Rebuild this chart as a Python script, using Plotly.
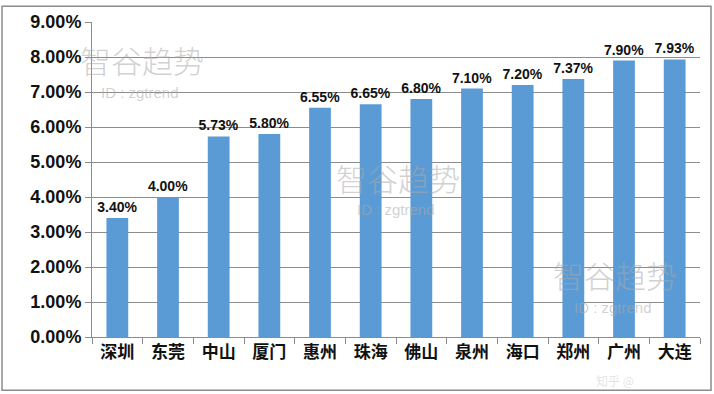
import plotly.graph_objects as go

cities = ["深圳", "东莞", "中山", "厦门", "惠州", "珠海", "佛山", "泉州", "海口", "郑州", "广州", "大连"]
values = [3.40, 4.00, 5.73, 5.80, 6.55, 6.65, 6.80, 7.10, 7.20, 7.37, 7.90, 7.93]
y_ticks = [0, 1, 2, 3, 4, 5, 6, 7, 8, 9]
y_tick_labels = [f"{v:.2f}%" for v in y_ticks]

W, H = 714, 394
ML, MR, MT, MB = 92, 14, 18, 57
PW, PH = W - ML - MR, H - MT - MB

fig = go.Figure()
fig.add_trace(go.Bar(
    x=cities, y=values,
    marker=dict(color="#5B9BD5", line=dict(width=0)),
    text=[f"{v:.2f}%" for v in values],
    textposition="outside",
    constraintext="none",
    textfont=dict(family="Liberation Sans, Noto Sans CJK SC", size=14, color="#111111", weight="bold"),
    cliponaxis=False,
))

def px(x):
    return (x - ML) / PW

def py(y):
    return 1 - (y - MT) / PH

wm_color = "rgba(170,170,170,0.55)"
annotations = []
for (cx, cy) in [(142, 56), (398, 175), (615, 274)]:
    annotations.append(dict(x=px(cx), y=py(cy), xref="paper", yref="paper", text="智谷趋势",
                            xanchor="center", yanchor="middle",
                            showarrow=False, font=dict(family="Noto Sans CJK SC", size=31, color=wm_color, weight=300)))
    annotations.append(dict(x=px(cx - 2), y=py(cy + 33), xref="paper", yref="paper", text="ID : zgtrend",
                            xanchor="center", yanchor="middle",
                            showarrow=False, font=dict(family="Liberation Sans", size=15, color=wm_color)))
annotations.append(dict(x=px(615), y=py(381), xref="paper", yref="paper", text="知乎 @",
                        xanchor="center", yanchor="middle",
                        showarrow=False, font=dict(family="Noto Sans CJK SC", size=12, color="rgba(190,190,190,0.45)")))

fig.update_layout(
    width=W, height=H,
    margin=dict(l=ML, r=MR, t=MT, b=MB),
    paper_bgcolor="white", plot_bgcolor="white",
    showlegend=False,
    bargap=0.57,
    font=dict(family="Liberation Sans, Noto Sans CJK SC", color="#111111"),
    xaxis=dict(
        type="category",
        showline=True, linecolor="#8c8c8c", linewidth=1,
        ticks="outside", tickson="boundaries", ticklen=6, tickcolor="#8c8c8c",
        tickfont=dict(family="Noto Sans CJK SC", size=17, color="#111111", weight="bold"),
        showgrid=False,
    ),
    yaxis=dict(
        range=[0, 9], tickvals=y_ticks, ticktext=y_tick_labels,
        showline=True, linecolor="#8c8c8c", linewidth=1,
        ticks="outside", ticklen=6, tickcolor="#8c8c8c",
        showgrid=True, gridcolor="#8c8c8c", gridwidth=1,
        tickfont=dict(family="Liberation Sans", size=18, color="#111111", weight="bold"),
        zeroline=False,
    ),
    annotations=annotations,
    shapes=[dict(type="rect", xref="paper", yref="paper",
                 x0=px(2), x1=px(711), y0=py(391), y1=py(2),
                 line=dict(color="#8c8c8c", width=1.5), layer="below")],
)

fig.write_html("out.html")
